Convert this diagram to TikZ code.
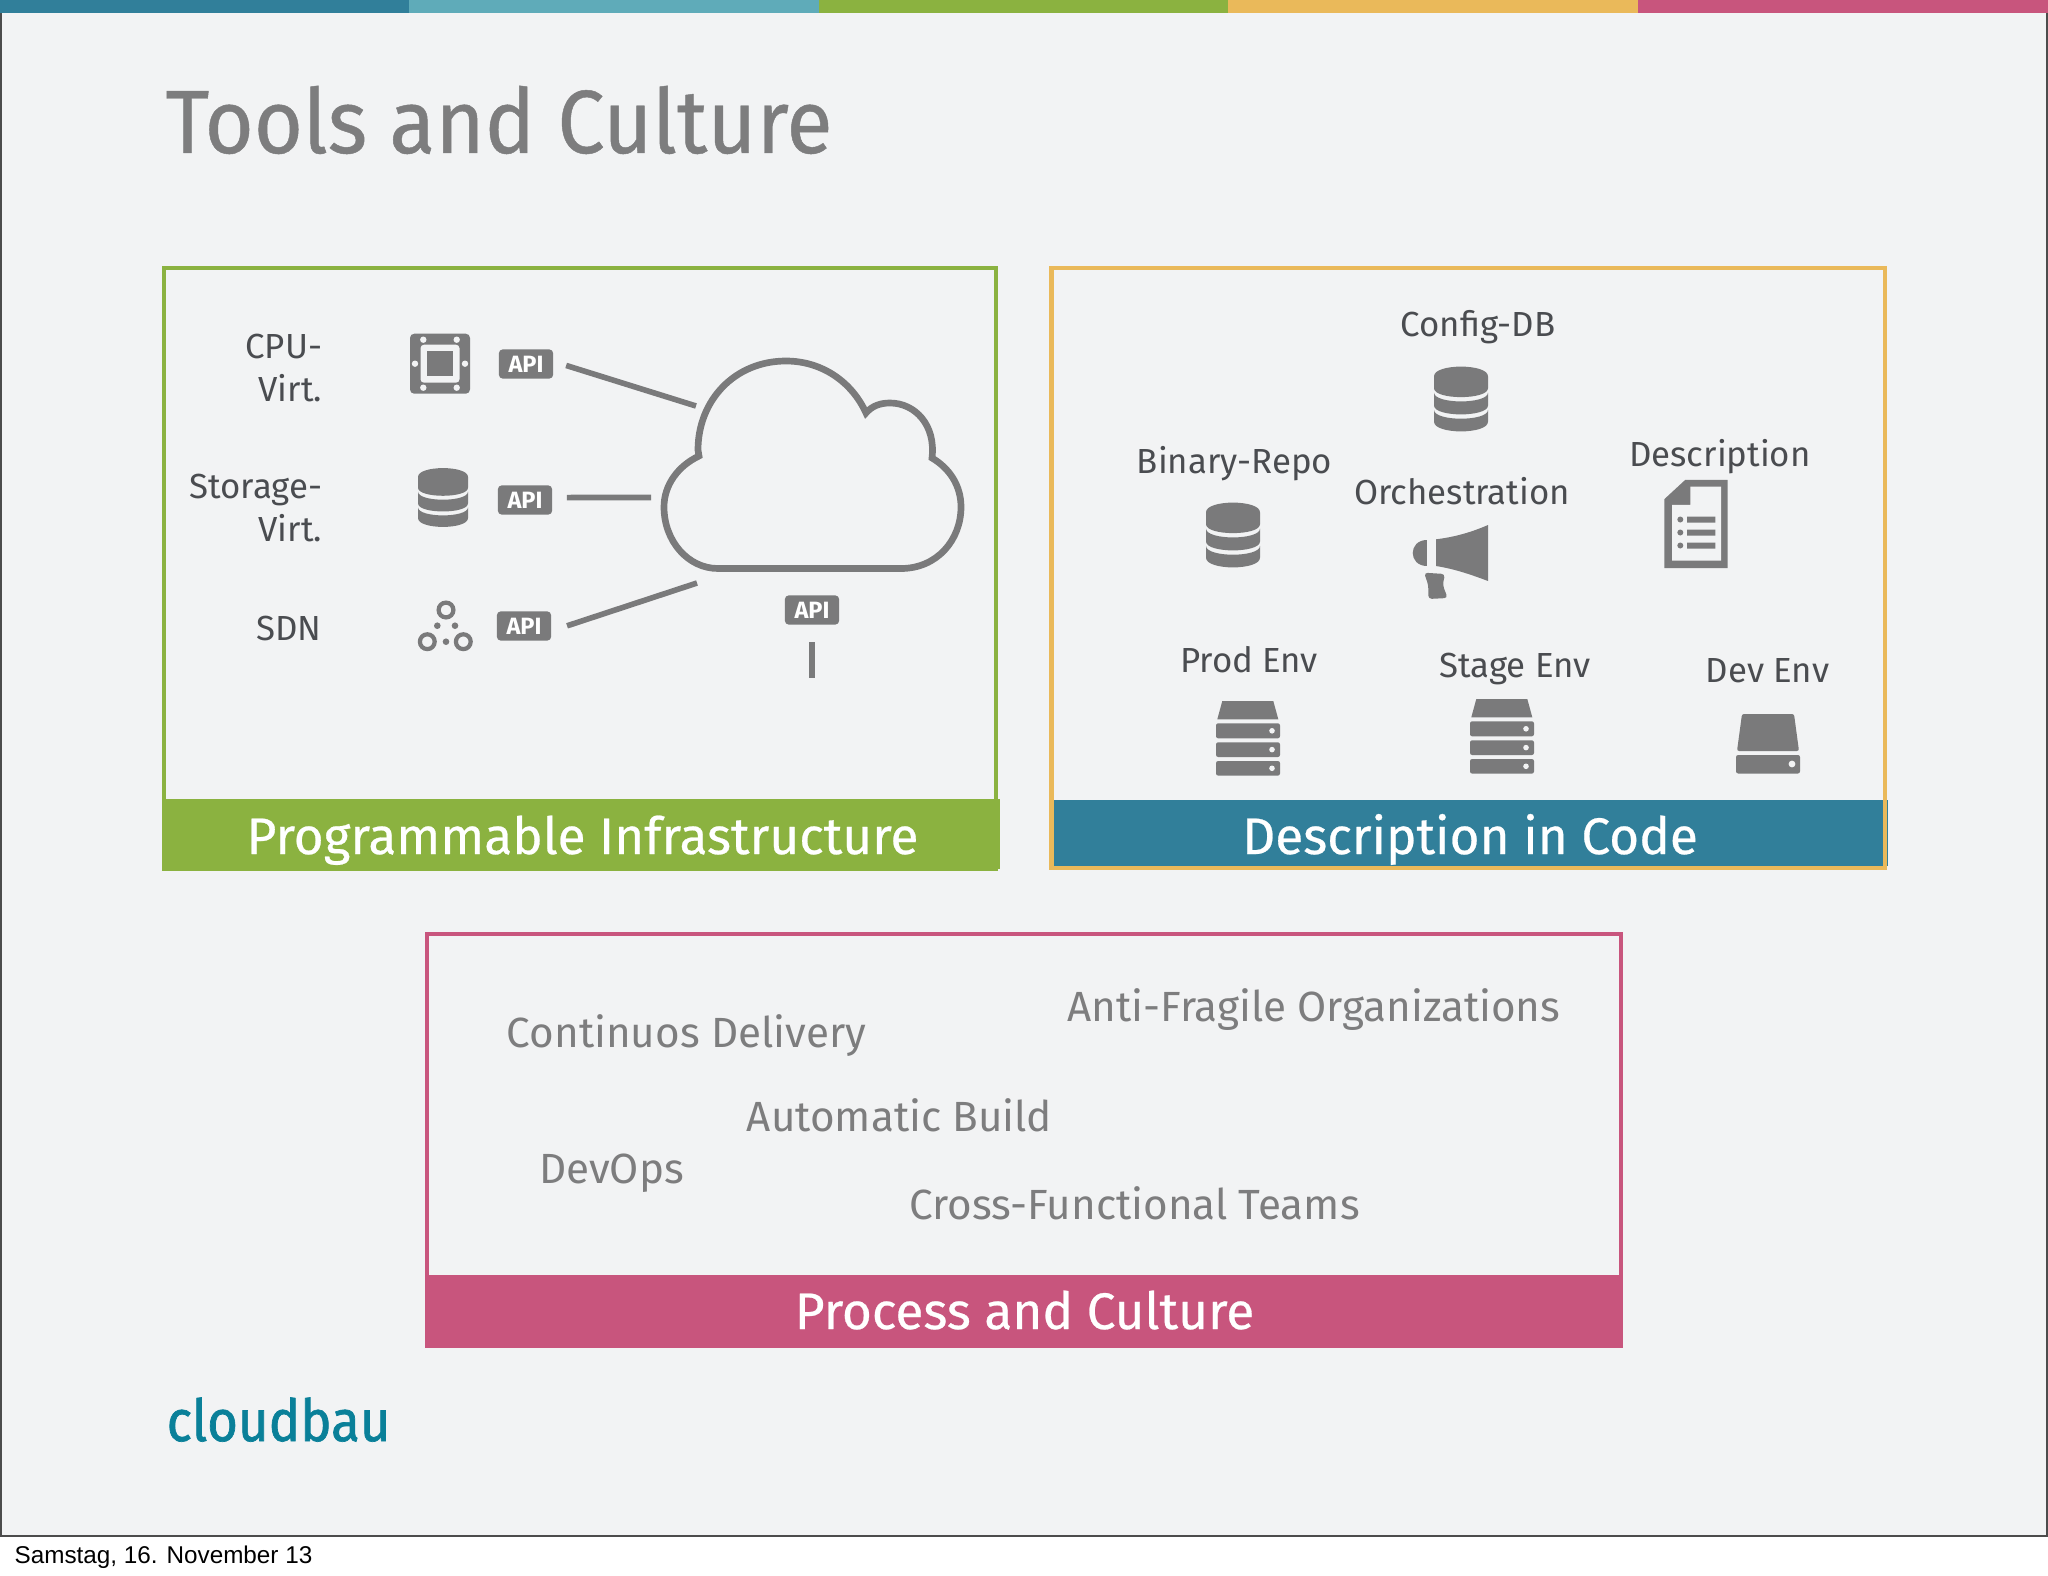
\documentclass[tikz,border=0pt]{standalone}
\usepackage{fontspec}
\setmainfont{Fira Sans}
\newfontfamily\datefont{Liberation Sans}
\newfontfamily\headfont[FakeStretch=0.94,FakeBold=0.5]{Fira Sans}
\newfontfamily\logofont[FakeStretch=0.91,FakeBold=1.2]{Fira Sans}
\newfontfamily\barfont[FakeBold=0.5]{Fira Sans}
\usetikzlibrary{calc,positioning}
\definecolor{slide_bg}{RGB}{242,243,244}
\definecolor{icon_grey}{RGB}{122,122,123}
\definecolor{label_grey}{RGB}{74,76,80}
\definecolor{soft_grey}{RGB}{125,125,126}
\definecolor{cb_blue}{RGB}{49,127,154}
\definecolor{cb_teal}{RGB}{95,171,185}
\definecolor{cb_green}{RGB}{139,178,64}
\definecolor{cb_yellow}{RGB}{234,185,90}
\definecolor{cb_pink}{RGB}{200,85,125}
\definecolor{cb_logo}{RGB}{10,128,153}
\tikzset{
	dbicon/.pic = {
		\fill[icon_grey] (-25,-21) .. controls (-25,-33) and (25,-33) .. (25,-21) -- (25,-10) .. controls (25,1) and (-25,1) .. (-25,-10) -- cycle;
		\fill[icon_grey] (-25,-6) .. controls (-25,5) and (25,5) .. (25,-6) -- (25,6) .. controls (25,17) and (-25,17) .. (-25,6) -- cycle;
		\fill[icon_grey] (-25,10) .. controls (-25,21) and (25,21) .. (25,10) -- (25,21) .. controls (25,33) and (-25,33) .. (-25,21) -- cycle;
	},
	chipicon/.pic = {
		\fill[icon_grey, rounded corners=1.2pt] (-30,-30) rectangle (30,30);
		\fill[slide_bg, rounded corners=1pt] (-19.5,-19) rectangle (19.5,19);
		\fill[icon_grey] (-13,-12.5) rectangle (13,12.5);
		\fill[slide_bg] (-16.7,-24) circle[radius=3.2] (16.7,-24) circle[radius=3.2] (-25,0) circle[radius=3.2] (25,0) circle[radius=3.2] (-16.7,24) circle[radius=3.2] (16.7,24) circle[radius=3.2];
	},
	sdnicon/.pic = {
		\draw[icon_grey, line width=1.2pt] (0,-21) circle[radius=7.4] (-18.7,10.7) circle[radius=7.4] (17.3,10.7) circle[radius=7.4];
		\fill[icon_grey] (-8.7,-5.3) circle[radius=3.3] (9,-5.3) circle[radius=3.3] (0,10.7) circle[radius=3.3];
	},
	hornicon/.pic = {
		\fill[icon_grey] (-14,-22.7) .. controls (5,-25) and (22,-30) .. (38,-37) -- (38,19) .. controls (22,13) and (5,7) .. (-14,4) -- cycle;
		\fill[icon_grey] (-23.3,-22) .. controls (-42,-22) and (-42,4) .. (-23.3,4) -- cycle;
		\fill[icon_grey, rounded corners=1pt] (-26,10.7) -- (-5,12) -- (-7.3,23) -- (-2.3,36) -- (-21.7,37) -- (-21.7,23) -- cycle;
	},
	docicon/.pic = {
		\fill[icon_grey] (-10.7,-44.2) -- (31.7,-44.2) -- (31.7,44.2) -- (-31.7,44.2) -- (-31.7,-24.8) -- cycle;
		\fill[slide_bg] (-5.7,-37.5) -- (25,-37.5) -- (25,36.5) -- (-24,36.5) -- (-24,-19.2) -- (-5.7,-19.2) -- cycle;
		\fill[icon_grey] (-15.7,-4.5) circle[radius=3] (-15.7,8.5) circle[radius=3] (-15.7,21.5) circle[radius=3];
		\fill[icon_grey] (-9,-7.5) rectangle (19.3,-1.5) (-9,5.5) rectangle (19.3,11.5) (-9,18.5) rectangle (19.3,24.5);
	},
	stackicon/.pic = {
		\fill[icon_grey] (-25.7,-37.3) -- (25.3,-37.3) -- (30.3,-19) -- (-30.7,-19) -- cycle;
		\fill[icon_grey, rounded corners=0.6pt] (-32,-15) rectangle (32,0);
		\fill[icon_grey, rounded corners=0.6pt] (-32,4) rectangle (32,18.7);
		\fill[icon_grey, rounded corners=0.6pt] (-32,22.7) rectangle (32,37.3);
		\fill[slide_bg] (24,-7.5) circle[radius=2.8] (24,11.3) circle[radius=2.8] (24,30) circle[radius=2.8];
	},
	diskicon/.pic = {
		\fill[icon_grey, rounded corners=0.6pt] (-26,-30) -- (26,-30) -- (31,7) -- (-31,7) -- cycle;
		\fill[icon_grey, rounded corners=0.6pt] (-32,11) rectangle (32,29.5);
		\fill[slide_bg] (24,20) circle[radius=3.4];
	}
}
\begin{document}
\begin{tikzpicture}
[
	x = 0.01cm,
	y = -0.01cm,
	apibox/.style = {fill = icon_grey, rounded corners = 1pt, inner sep = 0pt, minimum width = 0.54cm, minimum height = 0.29cm, text = white, font = \bfseries\fontsize{6.7}{7}\selectfont},
	link/.style = {draw = icon_grey, line width = 1.6pt},
	virtlabel/.style = {anchor = base east, align = right, text = label_grey, font = \fontsize{9.9}{11.95}\selectfont, inner sep = 0pt},
	itemlabel/.style = {anchor = base, text = label_grey, font = \fontsize{9.9}{11}\selectfont, inner sep = 0pt},
	culturelabel/.style = {anchor = base, text = soft_grey, font = \fontsize{12}{14}\selectfont, inner sep = 0pt},
	barlabel/.style = {anchor = base, text = white, font = \barfont\fontsize{14.6}{16}\selectfont, inner sep = 0pt}
]
\useasboundingbox (0,0) rectangle (2048,1576);
\fill[white] (0,0) rectangle (2048,1576);
\fill[slide_bg] (0,0) rectangle (2048,1536);
\draw[black!70, line width = 0.45pt] (1,0) -- (1,1536) -- (2047,1536) -- (2047,0);

\fill[cb_blue] (0,0) rectangle (409,13);
\fill[cb_teal] (409,0) rectangle (819,13);
\fill[cb_green] (819,0) rectangle (1228,13);
\fill[cb_yellow] (1228,0) rectangle (1638,13);
\fill[cb_pink] (1638,0) rectangle (2048,13);

\node[anchor = base west, inner sep = 0pt, text = soft_grey, font = \headfont\fontsize{25.5}{30}\selectfont] (title) at (165,153) {Tools and Culture};

\draw[cb_green, line width = 1.15pt] (163.7,268) rectangle (996,869);
\fill[cb_green] (162,799) rectangle (1000,869);
\node[barlabel] (infralabel) at (582.5,854) {Programmable Infrastructure};

\fill[cb_blue] (1054,800) rectangle (1887.5,866);
\draw[cb_yellow, line width = 1.15pt] (1051.5,268) rectangle (1885,868);
\node[barlabel] (codelabel) at (1470,854) {Description in Code};

\draw[cb_pink, line width = 1.15pt] (427,934) rectangle (1621,1280);
\fill[cb_pink] (425,1275) rectangle (1623,1348);
\node[barlabel] (culturebar) at (1024.5,1329) {Process and Culture};

\node[virtlabel] (cpulabel) at (323,401) {CPU-\\Virt.};
\node[virtlabel] (storagelabel) at (323,541) {Storage-\\Virt.};
\node[virtlabel] (sdnlabel) at (322,640) {SDN};

\pic (cpu) at (440,363.7) {chipicon};
\pic[yscale = 0.98] (storage) at (443,497.5) {dbicon};
\pic (sdn) at (446,631) {sdnicon};

\node[apibox] (apicpu) at (526,364) {API};
\node[apibox] (apistorage) at (525,500) {API};
\node[apibox] (apisdn) at (524,626) {API};
\node[apibox] (apicloud) at (812,610) {API};

\draw[icon_grey, line width = 1.9pt] (718,568.5) -- (901,568.5)
	.. controls (937,568.5) and (961,540) .. (961,507)
	.. controls (961,485) and (949,468) .. (932,458)
	.. controls (936,425) and (915,403) .. (890,403)
	.. controls (880,403) and (872,406) .. (866,413)
	.. controls (852,382) and (822,361) .. (786,361)
	.. controls (735,361) and (698,400) .. (698,450)
	-- (699,456)
	.. controls (678,466) and (664,485) .. (664,507)
	.. controls (664,541) and (688,568.5) .. (718,568.5) -- cycle;

\coordinate (cloudcpu) at (696,406);
\coordinate (cloudstorage) at (651,497.5);
\coordinate (cloudsdn) at (697,583);
\coordinate (cloudfoot) at (812,678);
\draw[link, shorten < = 3.7pt] (apicpu.5) -- (cloudcpu);
\draw[link, shorten < = 4pt] (apistorage.5) -- (cloudstorage);
\draw[link, shorten < = 4.6pt] (apisdn.-10) -- (cloudsdn);
\draw[link, shorten < = 4.8pt] (apicloud.south) -- (cloudfoot);

\node[itemlabel] (configlabel) at (1478,337) {Config-DB};
\node[itemlabel] (binarylabel) at (1234.5,473) {Binary-Repo};
\node[itemlabel] (orchlabel) at (1462,504) {Orchestration};
\node[itemlabel] (desclabel) at (1720,466) {Description};
\node[itemlabel] (prodlabel) at (1249,672) {Prod Env};
\node[itemlabel] (stagelabel) at (1515,677) {Stage Env};
\node[itemlabel] (devlabel) at (1767.5,682) {Dev Env};

\pic[scale = 1.08] (configdb) at (1461,399) {dbicon};
\pic[scale = 1.08] (binarydb) at (1233,535) {dbicon};
\pic (orch) at (1450,562) {hornicon};
\pic (desc) at (1696,524) {docicon};
\pic (prod) at (1248,738.3) {stackicon};
\pic (stage) at (1502,736.3) {stackicon};
\pic (dev) at (1768,744) {diskicon};

\node[culturelabel] (antifragile) at (1314,1021) {Anti-Fragile Organizations};
\node[culturelabel] (delivery) at (686.5,1047) {Continuos Delivery};
\node[culturelabel] (build) at (899.5,1131) {Automatic Build};
\node[culturelabel] (devops) at (611.5,1183) {DevOps};
\node[culturelabel] (teams) at (1134.5,1219) {Cross-Functional Teams};

\node[anchor = base west, inner sep = 0pt, text = cb_logo, font = \logofont\fontsize{16.5}{18}\selectfont] (logo) at (166,1441) {cloudbau};
\node[anchor = base west, inner sep = 0pt, font = \datefont\fontsize{6.9}{8}\selectfont] (datestamp) at (14,1563) {Samstag, 16. November 13};
\end{tikzpicture}
\end{document}
